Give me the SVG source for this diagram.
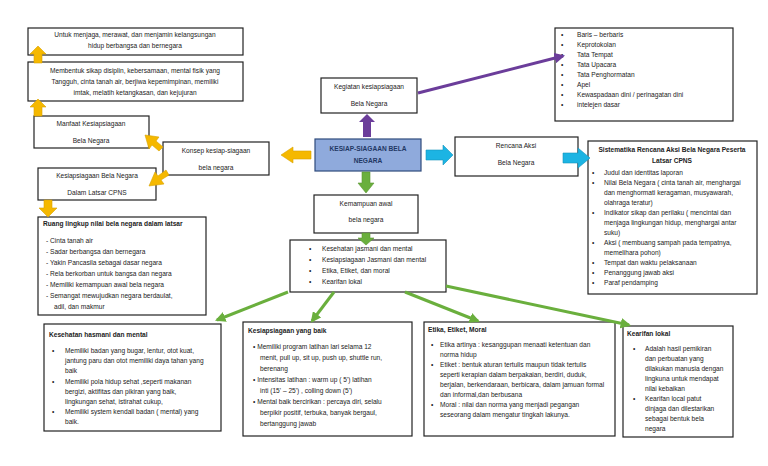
<svg xmlns="http://www.w3.org/2000/svg" width="768" height="466" viewBox="0 0 768 466">
<defs>
<style>
.b{fill:#fff;stroke:#222;stroke-width:1.2}
text{font-family:"Liberation Sans",Arial,sans-serif;font-size:6.6px;fill:#222}
.c{text-anchor:middle}
.h{font-weight:bold}
.y{fill:#f5b800;stroke:#d9a300;stroke-width:.6}
.cy{fill:#1cb4e3;stroke:#1493bd;stroke-width:.6}
.g{fill:#6aaf3d;stroke:#5a9632;stroke-width:.6}
.p{fill:#6b3d9a}
</style>
<marker id="mg" viewBox="0 0 10 10" refX="8" refY="5" markerWidth="3.5" markerHeight="3.5" orient="auto"><path d="M0,0L10,5L0,10z" fill="#6aaf3d"/></marker>
<marker id="mp" viewBox="0 0 10 10" refX="8" refY="5" markerWidth="3.5" markerHeight="3.5" orient="auto"><path d="M0,0L10,5L0,10z" fill="#6b3d9a"/></marker>
</defs>
<rect width="768" height="466" fill="#fff"/>
<g id="n-tujuan"><rect class="b" x="28" y="28" width="215" height="27"/><text class="c" x="135" y="37">Untuk menjaga, merawat, dan menjamin kelangsungan</text><text class="c" x="135" y="48">hidup berbangsa dan bernegara</text></g>
<g id="n-membentuk"><rect class="b" x="28" y="62" width="215" height="39"/><text class="c" x="135" y="73">Membentuk sikap disiplin, kebersamaan, mental fisik yang</text><text class="c" x="135" y="84">Tangguh, cinta tanah air, berjiwa kepemimpinan, memiliki</text><text class="c" x="135" y="95">imtak, melatih ketangkasan, dan kejujuran</text></g>
<g id="n-manfaat"><rect class="b" x="34" y="116" width="115" height="32"/><text class="c" x="91" y="126">Manfaat Kesiapsiagaan</text><text class="c" x="91" y="143">Bela Negara</text></g>
<g id="n-konsep"><rect class="b" x="163" y="142" width="106" height="33"/><text class="c" x="216" y="153">Konsep kesiap-siagaan</text><text class="c" x="216" y="170">bela negara</text></g>
<g id="n-latsar"><rect class="b" x="38" y="168" width="118" height="32"/><text class="c" x="97" y="178">Kesiapsiagaan Bela Negara</text><text class="c" x="97" y="195">Dalam Latsar CPNS</text></g>
<g id="n-ruang"><rect class="b" x="38" y="217" width="168" height="98"/><text class="h" x="43" y="226">Ruang lingkup nilai bela negara dalam latsar</text>
<text x="46" y="243">-   Cinta tanah air</text><text x="46" y="254">-   Sadar berbangsa dan bernegara</text><text x="46" y="265">-   Yakin Pancasila sebagai dasar negara</text><text x="46" y="276">-   Rela berkorban untuk bangsa dan negara</text><text x="46" y="287">-   Memiliki kemampuan awal bela negara</text><text x="46" y="298">-   Semangat mewujudkan negara berdaulat,</text><text x="54" y="309">adil, dan makmur</text></g>
<g id="n-pusat"><rect x="315" y="139" width="106" height="32" fill="#8faadc" stroke="#2f4b7c" stroke-width="1.2"/><text class="c h" x="368" y="151" style="fill:#1f3864">KESIAP-SIAGAAN BELA</text><text class="c h" x="368" y="163" style="fill:#1f3864">NEGARA</text></g>
<g id="n-kegiatan"><rect class="b" x="321" y="78" width="96" height="35"/><text class="c" x="369" y="89">Kegiatan kesiapsiagaan</text><text class="c" x="369" y="106">Bela Negara</text></g>
<g id="n-kegiatan-list"><rect class="b" x="555" y="28" width="178" height="93"/>
<text x="561" y="37">•</text><text x="577" y="37">Baris – berbaris</text><text x="561" y="47">•</text><text x="577" y="47">Keprotokolan</text><text x="561" y="57">•</text><text x="577" y="57">Tata Tempat</text><text x="561" y="67">•</text><text x="577" y="67">Tata Upacara</text><text x="561" y="77">•</text><text x="577" y="77">Tata Penghormatan</text><text x="561" y="87">•</text><text x="577" y="87">Apel</text><text x="561" y="97">•</text><text x="577" y="97">Kewaspadaan dini / perinagatan dini</text><text x="561" y="107">•</text><text x="577" y="107">intelejen dasar</text></g>
<g id="n-rencana"><rect class="b" x="455" y="137" width="123" height="39"/><text class="c" x="516" y="148">Rencana Aksi</text><text class="c" x="516" y="165">Bela Negara</text></g>
<g id="n-sistematika"><rect class="b" x="588" y="141" width="169" height="153"/><text class="c h" x="672" y="152">Sistematika Rencana Aksi Bela Negara Peserta</text><text class="c h" x="672" y="163">Latsar CPNS</text>
<text x="592" y="175">•</text><text x="604" y="175">Judul dan identitas laporan</text>
<text x="592" y="185">•</text><text x="604" y="185">Nilai Bela Negara ( cinta tanah air, menghargai</text><text x="604" y="195">dan menghormati keragaman, musyawarah,</text><text x="604" y="205">olahraga teratur)</text>
<text x="592" y="215">•</text><text x="604" y="215">Indikator sikap dan perilaku ( mencintai dan</text><text x="604" y="225">menjaga lingkungan hidup, menghargai antar</text><text x="604" y="235">suku)</text>
<text x="592" y="245">•</text><text x="604" y="245">Aksi ( membuang sampah pada tempatnya,</text><text x="604" y="255">memelihara pohon)</text>
<text x="592" y="265">•</text><text x="604" y="265">Tempat dan waktu pelaksanaan</text>
<text x="592" y="275">•</text><text x="604" y="275">Penanggung jawab aksi</text>
<text x="592" y="285">•</text><text x="604" y="285">Paraf pendamping</text></g>
<g id="n-kemampuan"><rect class="b" x="314" y="195" width="104" height="38"/><text class="c" x="366" y="206">Kemampuan awal</text><text class="c" x="366" y="222">bela negara</text></g>
<g id="n-list"><rect class="b" x="290" y="240" width="156" height="52"/>
<text x="309" y="251">•</text><text x="322" y="251">Kesehatan jasmani dan mental</text><text x="309" y="262">•</text><text x="322" y="262">Kesiapsiagaan Jasmani dan mental</text><text x="309" y="273">•</text><text x="322" y="273">Etika, Etiket, dan moral</text><text x="309" y="284">•</text><text x="322" y="284">Kearifan lokal</text></g>
<g id="n-kesehatan"><rect class="b" x="44" y="324" width="177" height="107"/><text class="h" x="49" y="337">Kesehatan hasmani dan mental</text>
<text x="52" y="353">•</text><text x="65" y="353">Memiliki badan yang bugar, lentur, otot kuat,</text><text x="65" y="363">jantung paru dan otot memiliki daya tahan yang</text><text x="65" y="373">baik</text>
<text x="52" y="384">•</text><text x="65" y="384">Memiliki pola hidup sehat ,seperti makanan</text><text x="65" y="394">bergizi, aktifitas dan pikiran yang baik,</text><text x="65" y="404">lingkungan sehat, istirahat cukup,</text>
<text x="52" y="414">•</text><text x="65" y="414">Memiliki system kendali badan ( mental) yang</text><text x="65" y="424">baik.</text></g>
<g id="n-kesiapsiagaan"><rect class="b" x="243" y="322" width="169" height="114"/><text class="h" x="248" y="333">Kesiapsiagaan yang baik</text>
<text x="253" y="349">• Memiliki program latihan lari selama 12</text><text x="260" y="360">menit, pull up, sit up, push up, shuttle run,</text><text x="260" y="371">berenang</text>
<text x="253" y="382">• Intensitas latihan : warm up ( 5') latihan</text><text x="260" y="393">inti (15' – 25') , colling down (5')</text>
<text x="253" y="404">• Mental baik bercirikan : percaya diri, selalu</text><text x="260" y="415">berpikir positif, terbuka, banyak bergaul,</text><text x="260" y="426">bertanggung jawab</text></g>
<g id="n-etika"><rect class="b" x="424" y="322" width="191" height="114"/><text class="h" x="428" y="332">Etika, Etiket, Moral</text>
<text x="431" y="347">•</text><text x="440" y="347">Etika artinya : kesanggupan menaati ketentuan dan</text><text x="440" y="357">norma hidup</text>
<text x="431" y="367">•</text><text x="440" y="367">Etiket : bentuk aturan tertulis maupun tidak tertulis</text><text x="440" y="377">seperti kerapian dalam berpakaian, berdiri, duduk,</text><text x="440" y="387">berjalan, berkendaraan, berbicara, dalam jamuan formal</text><text x="440" y="397">dan informal,dan berbusana</text>
<text x="431" y="407">•</text><text x="440" y="407">Moral : nilai dan norma yang menjadi pegangan</text><text x="440" y="417">seseorang dalam mengatur tingkah lakunya.</text></g>
<g id="n-kearifan"><rect class="b" x="623" y="326" width="110" height="111"/><text class="h" x="627" y="336">Kearifan lokal</text>
<text x="633" y="351">•</text><text x="645" y="351">Adalah hasil pemikiran</text><text x="645" y="361">dan perbuatan yang</text><text x="645" y="371">dilakukan manusia dengan</text><text x="645" y="381">lingkuna untuk mendapat</text><text x="645" y="391">nilai kebaikan</text>
<text x="633" y="401">•</text><text x="645" y="401">Kearifan local patut</text><text x="645" y="411">dinjaga dan dilestarikan</text><text x="645" y="421">sebagai bentuk bela</text><text x="645" y="431">negara</text></g>
<g id="connectors">
<path class="y" d="M34,63V54H30L38,46L46,54H42V63z"/>
<path class="y" d="M34,116V107H30L38,99L46,107H42V116z"/>
<path class="y" d="M44,200V208H39L48,217L57,208H52V200z"/>
<path class="y" d="M163,147L156,141L159,137L145,135L149,149L152,145L159,151z"/>
<path class="y" d="M166,170L158,176L155,172L149,186L164,184L161,180L169,175z"/>
<path class="y" d="M311,151H293V147L281,155L293,163V159H311z"/>
<path class="cy" d="M426,150H443V145L453,155L443,165V160H426z"/>
<path class="cy" d="M563,153H578V148L590,158L578,168V163H563z"/>
<path class="p" d="M363,137V122H359L367,114L375,122H371V137z"/>
<line x1="418" y1="93" x2="563" y2="56" stroke="#6b3d9a" stroke-width="3" marker-end="url(#mp)"/>
<path class="g" d="M362,172V183H358L366,193L374,183H370V172z"/>
<path class="g" d="M362,233V238H358L366,245L374,238H370V233z"/>
<line x1="288" y1="292" x2="217" y2="320" stroke="#6aaf3d" stroke-width="3" marker-end="url(#mg)"/>
<line x1="334" y1="292" x2="312" y2="321" stroke="#6aaf3d" stroke-width="3" marker-end="url(#mg)"/>
<line x1="405" y1="292" x2="478" y2="321" stroke="#6aaf3d" stroke-width="3" marker-end="url(#mg)"/>
<line x1="446" y1="286" x2="629" y2="325" stroke="#6aaf3d" stroke-width="3" marker-end="url(#mg)"/>
</g>
</svg>
